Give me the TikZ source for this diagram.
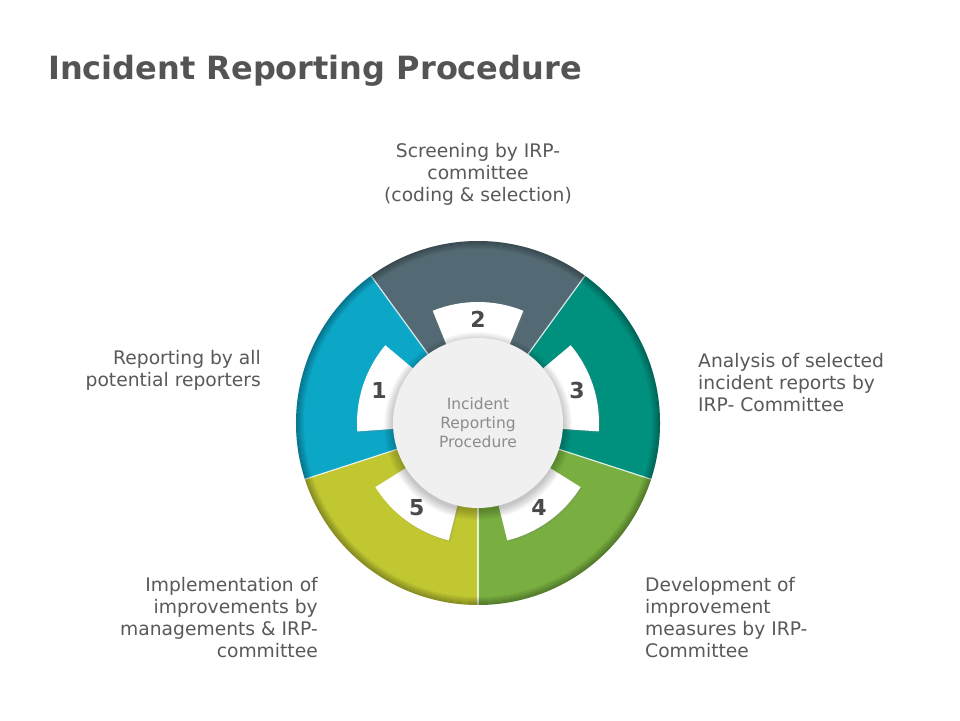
\documentclass[tikz,border=0pt]{standalone}
\usepackage{fontspec}
\setmainfont{DejaVu Sans}
\usetikzlibrary{shadows}
\definecolor{segone}{HTML}{0CA6C7}
\definecolor{segtwo}{HTML}{536A74}
\definecolor{segthree}{HTML}{00907E}
\definecolor{segfour}{HTML}{78AF40}
\definecolor{segfive}{HTML}{C0C731}
\definecolor{titlegrey}{HTML}{545454}
\definecolor{txtgrey}{HTML}{595959}
\definecolor{numgrey}{HTML}{4A4A4A}
\definecolor{hubfill}{HTML}{F0F0F0}
\definecolor{hubtext}{HTML}{8C8C8C}
\begin{document}
\begin{tikzpicture}[x=1pt, y=1pt]
\tikzstyle{lbl}=[inner sep=0pt, text=txtgrey, font=\fontsize{18.7}{22}\selectfont]
\tikzstyle{num}=[inner sep=0pt, text=numgrey, font=\fontsize{22}{24}\selectfont\bfseries]
\tikzstyle{tab}=[fill=white, drop shadow={opacity=0.22, shadow xshift=1.5pt, shadow yshift=-1.5pt}]
\fill[white] (0,0) rectangle (960,720);
\useasboundingbox (0,0) rectangle (960,720);
\coordinate (o) at (478,297);

% title
\node[anchor=base west, inner sep=0pt, text=titlegrey, font=\fontsize{32}{36}\selectfont\bfseries] (title) at (48,640) {Incident Reporting Procedure};

% ring sectors
\foreach \a/\c in {126/segone, 54/segtwo, -18/segthree, 270/segfour, 198/segfive}
  \fill[\c] (o) -- ++(\a:182) arc[start angle=\a, end angle=\a+72, radius=182] -- cycle;
\foreach \a in {270, 342, 54, 126, 198}
  \draw[white, opacity=0.8, line width=1.2pt] (o) -- ++(\a:182);
% darker rim
\foreach \k [evaluate=\k as \op using 0.035*\k] in {1,...,8}
  \draw[black, opacity=\op, line width=1pt] (o) circle[radius=173.5+\k];

% white tabs
\foreach \m in {162, 90, 18, 306, 234}
  \fill[tab] ([shift={(\m-22:78)}]o) -- ([shift={(\m-22:121)}]o)
    arc[start angle=\m-22, end angle=\m+22, radius=121] -- ([shift={(\m+22:78)}]o) -- cycle;

% hub
\foreach \k in {1,...,6}
  \fill[black, opacity=0.04] ([yshift=-3pt]o) circle[radius=84+\k*1.6];
\node[circle, fill=hubfill, minimum size=170pt, inner sep=0pt, text=hubtext, align=center,
  font=\fontsize{15.5}{19}\selectfont] (hub) at (o) {Incident\\Reporting\\Procedure};

% numbers
\node[num] (n1) at ([shift={(162:104)}]o) {1};
\node[num] (n2) at ([shift={(90:104)}]o) {2};
\node[num] (n3) at ([shift={(18:104)}]o) {3};
\node[num] (n4) at ([shift={(306:104)}]o) {4};
\node[num] (n5) at ([shift={(234:104)}]o) {5};

% step texts
\node[lbl, align=center] (step2) at (478,546) {Screening by IRP-\\committee\\(coding \& selection)};
\node[lbl, align=right, anchor=east] (step1) at (261,350) {Reporting by all\\potential reporters};
\node[lbl, align=left, anchor=west] (step3) at (698,337) {Analysis of selected\\incident reports by\\IRP- Committee};
\node[lbl, align=left, anchor=west] (step4) at (645,102) {Development of\\improvement\\measures by IRP-\\Committee};
\node[lbl, align=right, anchor=east] (step5) at (318,102) {Implementation of\\improvements by\\managements \& IRP-\\committee};
\end{tikzpicture}
\end{document}
